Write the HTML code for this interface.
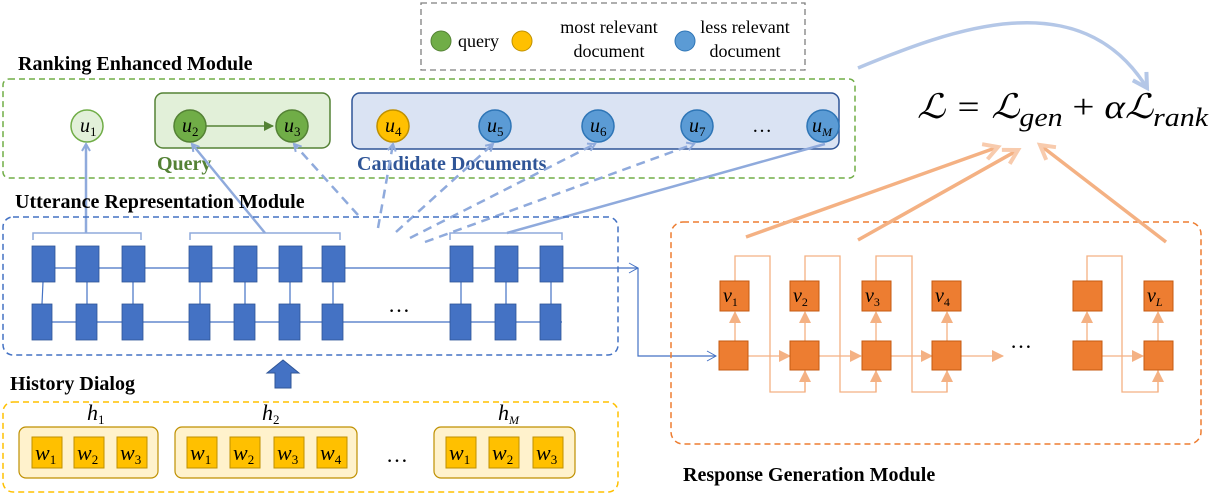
<!DOCTYPE html>
<html><head><meta charset="utf-8"><style>
html,body{margin:0;padding:0;background:#fff;}
svg{display:block;}
.b{font-family:"Liberation Serif",serif;font-weight:bold;}
.s{font-family:"Liberation Serif",serif;}
.m{font-family:"Liberation Serif",serif;font-style:italic;}
</style></head><body>
<svg width="1212" height="495" viewBox="0 0 1212 495" xmlns="http://www.w3.org/2000/svg">
<defs>
<marker id="ab" markerWidth="10" markerHeight="10" refX="8" refY="5" orient="auto" markerUnits="userSpaceOnUse"><path d="M1,1 L8,5 L1,9" fill="none" stroke="#8faadc" stroke-width="2"/></marker>
<marker id="abt" markerWidth="12" markerHeight="12" refX="10" refY="6" orient="auto" markerUnits="userSpaceOnUse"><path d="M1,1 L10,6 L1,11" fill="none" stroke="#4472c4" stroke-width="1"/></marker>
<marker id="ag" markerWidth="10" markerHeight="10" refX="9" refY="5" orient="auto" markerUnits="userSpaceOnUse"><path d="M0,0 L10,5 L0,10z" fill="#548235"/></marker>
<marker id="ao" markerWidth="12" markerHeight="12" refX="11" refY="6" orient="auto" markerUnits="userSpaceOnUse"><path d="M0,0 L12,6 L0,12z" fill="#f4b183"/></marker>
<marker id="aob" markerWidth="20" markerHeight="20" refX="16" refY="10" orient="auto" markerUnits="userSpaceOnUse"><path d="M2,2 L16,10 L2,18" fill="none" stroke="#f8cbad" stroke-width="4"/></marker>
<marker id="alb" markerWidth="20" markerHeight="20" refX="16" refY="10" orient="auto" markerUnits="userSpaceOnUse"><path d="M2,2 L16,10 L2,18" fill="none" stroke="#b4c7e7" stroke-width="4"/></marker>
</defs>

<!-- Legend -->
<rect x="421" y="3" width="384" height="67" fill="none" stroke="#7f7f7f" stroke-width="1.3" stroke-dasharray="6,4"/>
<circle cx="441" cy="41" r="10" fill="#70ad47" stroke="#548235"/>
<text x="458" y="47" class="s" font-size="18">query</text>
<circle cx="522" cy="41" r="10" fill="#ffc000" stroke="#bf9000"/>
<text x="609" y="33" class="s" font-size="18" text-anchor="middle">most relevant</text>
<text x="609" y="57" class="s" font-size="18" text-anchor="middle">document</text>
<circle cx="685" cy="41" r="10" fill="#5b9bd5" stroke="#2e75b6"/>
<text x="745" y="33" class="s" font-size="18" text-anchor="middle">less relevant</text>
<text x="745" y="57" class="s" font-size="18" text-anchor="middle">document</text>

<!-- Ranking module -->
<text x="18" y="70" class="b" font-size="20">Ranking Enhanced Module</text>
<rect x="3" y="79" width="852" height="99" rx="6" fill="none" stroke="#70ad47" stroke-width="1.5" stroke-dasharray="6,4"/>
<circle cx="87" cy="126" r="16" fill="#e2f0d9" stroke="#70ad47" stroke-width="1.5"/>
<text x="80" y="132" class="m" font-size="20">u<tspan font-size="13" dy="4" font-style="normal">1</tspan></text>
<rect x="155" y="93" width="175" height="55" rx="8" fill="#e2f0d9" stroke="#548235" stroke-width="1.5"/>
<rect x="352" y="93" width="487" height="56" rx="8" fill="#dae3f3" stroke="#2f5597" stroke-width="1.5"/>
<line x1="206" y1="126" x2="273" y2="126" stroke="#548235" stroke-width="1.5" marker-end="url(#ag)"/>
<g stroke="#548235" stroke-width="1.5" fill="#70ad47">
<circle cx="190" cy="126" r="16"/><circle cx="292" cy="126" r="16"/></g>
<circle cx="393" cy="126" r="16" fill="#ffc000" stroke="#bf9000" stroke-width="1.5"/>
<g fill="#5b9bd5" stroke="#2e75b6" stroke-width="1.5">
<circle cx="495" cy="126" r="16"/><circle cx="598" cy="126" r="16"/><circle cx="697" cy="126" r="16"/><circle cx="823" cy="126" r="16"/></g>
<g class="m" font-size="20">
<text x="182" y="132">u<tspan font-size="13" dy="4" font-style="normal">2</tspan></text>
<text x="284" y="132">u<tspan font-size="13" dy="4" font-style="normal">3</tspan></text>
<text x="385" y="132">u<tspan font-size="13" dy="4" font-style="normal">4</tspan></text>
<text x="487" y="132">u<tspan font-size="13" dy="4" font-style="normal">5</tspan></text>
<text x="590" y="132">u<tspan font-size="13" dy="4" font-style="normal">6</tspan></text>
<text x="689" y="132">u<tspan font-size="13" dy="4" font-style="normal">7</tspan></text>
<text x="812" y="132">u<tspan font-size="12" dy="4">M</tspan></text>
</g>
<text x="752" y="132" class="s" font-size="20">…</text>
<text x="157" y="170" class="b" font-size="20" fill="#548235">Query</text>
<text x="357" y="170" class="b" font-size="20" fill="#2f5597">Candidate Documents</text>

<!-- Arrows to ranking -->
<g stroke="#8faadc" stroke-width="2.5" fill="none">
<line x1="86" y1="233" x2="86" y2="144" marker-end="url(#ab)"/>
<line x1="265" y1="233" x2="192" y2="144" marker-end="url(#ab)"/>
<line x1="825" y1="144" x2="507" y2="233"/>
<g stroke-dasharray="9,6">
<line x1="358" y1="215" x2="294" y2="144" marker-end="url(#ab)"/>
<line x1="378" y1="228" x2="393" y2="144" marker-end="url(#ab)"/>
<line x1="396" y1="232" x2="493" y2="144" marker-end="url(#ab)"/>
<line x1="410" y1="238" x2="595" y2="144" marker-end="url(#ab)"/>
<line x1="425" y1="242" x2="694" y2="144" marker-end="url(#ab)"/>
</g>
<path d="M858,68 C950,30 1080,-20 1147,88" stroke="#b4c7e7" stroke-width="3.5" marker-end="url(#alb)"/>
</g>

<!-- Formula -->
<text x="917" y="118" class="m" font-size="34" textLength="291" lengthAdjust="spacingAndGlyphs">ℒ = ℒ<tspan font-size="26" dy="8">gen</tspan><tspan dy="-8" font-style="normal"> + </tspan>αℒ<tspan font-size="26" dy="8">rank</tspan></text>

<!-- Utterance -->
<text x="15" y="208" class="b" font-size="20">Utterance Representation Module</text>
<rect x="3" y="217" width="615" height="138" rx="10" fill="none" stroke="#4472c4" stroke-width="1.5" stroke-dasharray="6,4"/>
<g stroke="#8faadc" stroke-width="1.5" fill="none">
<path d="M33,240 V233 H141 V240"/>
<path d="M190,240 V233 H340 V240"/>
<path d="M450,240 V233 H562 V240"/>
</g>
<g stroke="#4472c4" stroke-width="1.2" fill="none">
<line x1="32" y1="268" x2="638" y2="268" marker-end="url(#abt)"/>
<line x1="32" y1="322" x2="562" y2="322"/>
<g>
<line x1="43" y1="282" x2="42" y2="304"/><line x1="87" y1="282" x2="87" y2="304"/><line x1="133" y1="282" x2="133" y2="304"/>
<line x1="200" y1="282" x2="200" y2="304"/><line x1="245" y1="282" x2="245" y2="304"/><line x1="290" y1="282" x2="290" y2="304"/><line x1="333" y1="282" x2="333" y2="304"/>
<line x1="461" y1="282" x2="461" y2="304"/><line x1="506" y1="282" x2="506" y2="304"/><line x1="551" y1="282" x2="551" y2="304"/>
</g>
<path d="M638,268 V356 H716" marker-end="url(#abt)"/>
</g>
<g fill="#4472c4" stroke="#2f5597" stroke-width="0.8">
<rect x="32" y="246" width="23" height="36"/><rect x="76" y="246" width="23" height="36"/><rect x="122" y="246" width="23" height="36"/>
<rect x="189" y="246" width="23" height="36"/><rect x="234" y="246" width="23" height="36"/><rect x="279" y="246" width="23" height="36"/><rect x="322" y="246" width="23" height="36"/>
<rect x="450" y="246" width="23" height="36"/><rect x="495" y="246" width="23" height="36"/><rect x="540" y="246" width="23" height="36"/>
<rect x="32" y="304" width="20" height="36"/><rect x="76" y="304" width="21" height="36"/><rect x="122" y="304" width="21" height="36"/>
<rect x="189" y="304" width="21" height="36"/><rect x="234" y="304" width="21" height="36"/><rect x="279" y="304" width="21" height="36"/><rect x="322" y="304" width="21" height="36"/>
<rect x="450" y="304" width="21" height="36"/><rect x="495" y="304" width="21" height="36"/><rect x="540" y="304" width="21" height="36"/>
</g>
<text x="388" y="312" class="s" font-size="22">…</text>

<!-- History -->
<path d="M283,360 L299,373 L291,373 L291,388 L275,388 L275,373 L267,373Z" fill="#4472c4" stroke="#2f5597"/>
<text x="10" y="390" class="b" font-size="20">History Dialog</text>
<rect x="3" y="402" width="615" height="90" rx="10" fill="none" stroke="#ffc000" stroke-width="1.5" stroke-dasharray="6,4"/>
<g fill="#fff2cc" stroke="#bf9000" stroke-width="1.2">
<rect x="19" y="427" width="139" height="51" rx="7"/>
<rect x="175" y="427" width="182" height="51" rx="7"/>
<rect x="434" y="427" width="141" height="51" rx="7"/>
</g>
<g fill="#ffc000" stroke="#bf9000" stroke-width="1">
<rect x="32" y="437" width="30" height="31"/><rect x="74" y="437" width="30" height="31"/><rect x="117" y="437" width="30" height="31"/>
<rect x="187" y="437" width="30" height="31"/><rect x="230" y="437" width="30" height="31"/><rect x="274" y="437" width="30" height="31"/><rect x="317" y="437" width="30" height="31"/>
<rect x="446" y="437" width="30" height="31"/><rect x="489" y="437" width="30" height="31"/><rect x="533" y="437" width="30" height="31"/>
</g>
<g class="m" font-size="22">
<text x="35" y="460">w<tspan font-size="13" dy="4" font-style="normal">1</tspan></text>
<text x="77" y="460">w<tspan font-size="13" dy="4" font-style="normal">2</tspan></text>
<text x="120" y="460">w<tspan font-size="13" dy="4" font-style="normal">3</tspan></text>
<text x="190" y="460">w<tspan font-size="13" dy="4" font-style="normal">1</tspan></text>
<text x="233" y="460">w<tspan font-size="13" dy="4" font-style="normal">2</tspan></text>
<text x="277" y="460">w<tspan font-size="13" dy="4" font-style="normal">3</tspan></text>
<text x="320" y="460">w<tspan font-size="13" dy="4" font-style="normal">4</tspan></text>
<text x="449" y="460">w<tspan font-size="13" dy="4" font-style="normal">1</tspan></text>
<text x="492" y="460">w<tspan font-size="13" dy="4" font-style="normal">2</tspan></text>
<text x="536" y="460">w<tspan font-size="13" dy="4" font-style="normal">3</tspan></text>
<text x="87" y="420">h<tspan font-size="13" dy="4" font-style="normal">1</tspan></text>
<text x="262" y="420">h<tspan font-size="13" dy="4" font-style="normal">2</tspan></text>
<text x="498" y="420">h<tspan font-size="12" dy="4">M</tspan></text>
</g>
<text x="386" y="462" class="s" font-size="22">…</text>

<!-- Response generation -->
<rect x="671" y="222" width="530" height="222" rx="12" fill="none" stroke="#ed7d31" stroke-width="1.5" stroke-dasharray="6,4"/>
<g stroke="#f4b183" stroke-width="3.5" fill="none">
<line x1="746" y1="237" x2="998" y2="147" marker-end="url(#aob)"/>
<line x1="858" y1="240" x2="1018" y2="150" marker-end="url(#aob)"/>
<line x1="1166" y1="242" x2="1040" y2="145" marker-end="url(#aob)"/>
</g>
<g stroke="#f4b183" stroke-width="1.3" fill="none">
<path d="M735,281 V256 H770 V392 H805 V370"/>
<path d="M805,281 V256 H840 V392 H876 V370"/>
<path d="M876,281 V256 H912 V392 H947 V370"/>
<path d="M1087,281 V256 H1122 V392 H1158 V370"/>
<line x1="735" y1="341" x2="735" y2="312" marker-end="url(#ao)"/>
<line x1="805" y1="341" x2="805" y2="312" marker-end="url(#ao)"/>
<line x1="876" y1="341" x2="876" y2="312" marker-end="url(#ao)"/>
<line x1="947" y1="341" x2="947" y2="312" marker-end="url(#ao)"/>
<line x1="1087" y1="341" x2="1087" y2="312" marker-end="url(#ao)"/>
<line x1="1158" y1="341" x2="1158" y2="312" marker-end="url(#ao)"/>
<line x1="805" y1="392" x2="805" y2="371" marker-end="url(#ao)"/>
<line x1="876" y1="392" x2="876" y2="371" marker-end="url(#ao)"/>
<line x1="947" y1="392" x2="947" y2="371" marker-end="url(#ao)"/>
<line x1="1158" y1="392" x2="1158" y2="371" marker-end="url(#ao)"/>
<line x1="748" y1="356" x2="790" y2="356" marker-end="url(#ao)"/>
<line x1="819" y1="356" x2="861" y2="356" marker-end="url(#ao)"/>
<line x1="890" y1="356" x2="932" y2="356" marker-end="url(#ao)"/>
<line x1="961" y1="356" x2="1003" y2="356" marker-end="url(#ao)"/>
<line x1="1101" y1="356" x2="1143" y2="356" marker-end="url(#ao)"/>
</g>
<g fill="#ed7d31" stroke="#c55a11" stroke-width="1">
<rect x="720" y="281" width="29" height="30"/><rect x="790" y="281" width="29" height="30"/><rect x="862" y="281" width="29" height="30"/><rect x="932" y="281" width="29" height="30"/><rect x="1073" y="281" width="29" height="30"/><rect x="1144" y="281" width="29" height="30"/>
<rect x="719" y="341" width="29" height="29"/><rect x="790" y="341" width="29" height="29"/><rect x="862" y="341" width="29" height="29"/><rect x="932" y="341" width="29" height="29"/><rect x="1073" y="341" width="29" height="29"/><rect x="1144" y="341" width="29" height="29"/>
</g>
<g class="m" font-size="20">
<text x="723" y="302">v<tspan font-size="12" dy="4" font-style="normal">1</tspan></text>
<text x="793" y="302">v<tspan font-size="12" dy="4" font-style="normal">2</tspan></text>
<text x="865" y="302">v<tspan font-size="12" dy="4" font-style="normal">3</tspan></text>
<text x="935" y="302">v<tspan font-size="12" dy="4" font-style="normal">4</tspan></text>
<text x="1147" y="302">v<tspan font-size="12" dy="4">L</tspan></text>
</g>
<text x="1010" y="348" class="s" font-size="22">…</text>
<text x="683" y="481" class="b" font-size="20">Response  Generation Module</text>
</svg>
</body></html>
